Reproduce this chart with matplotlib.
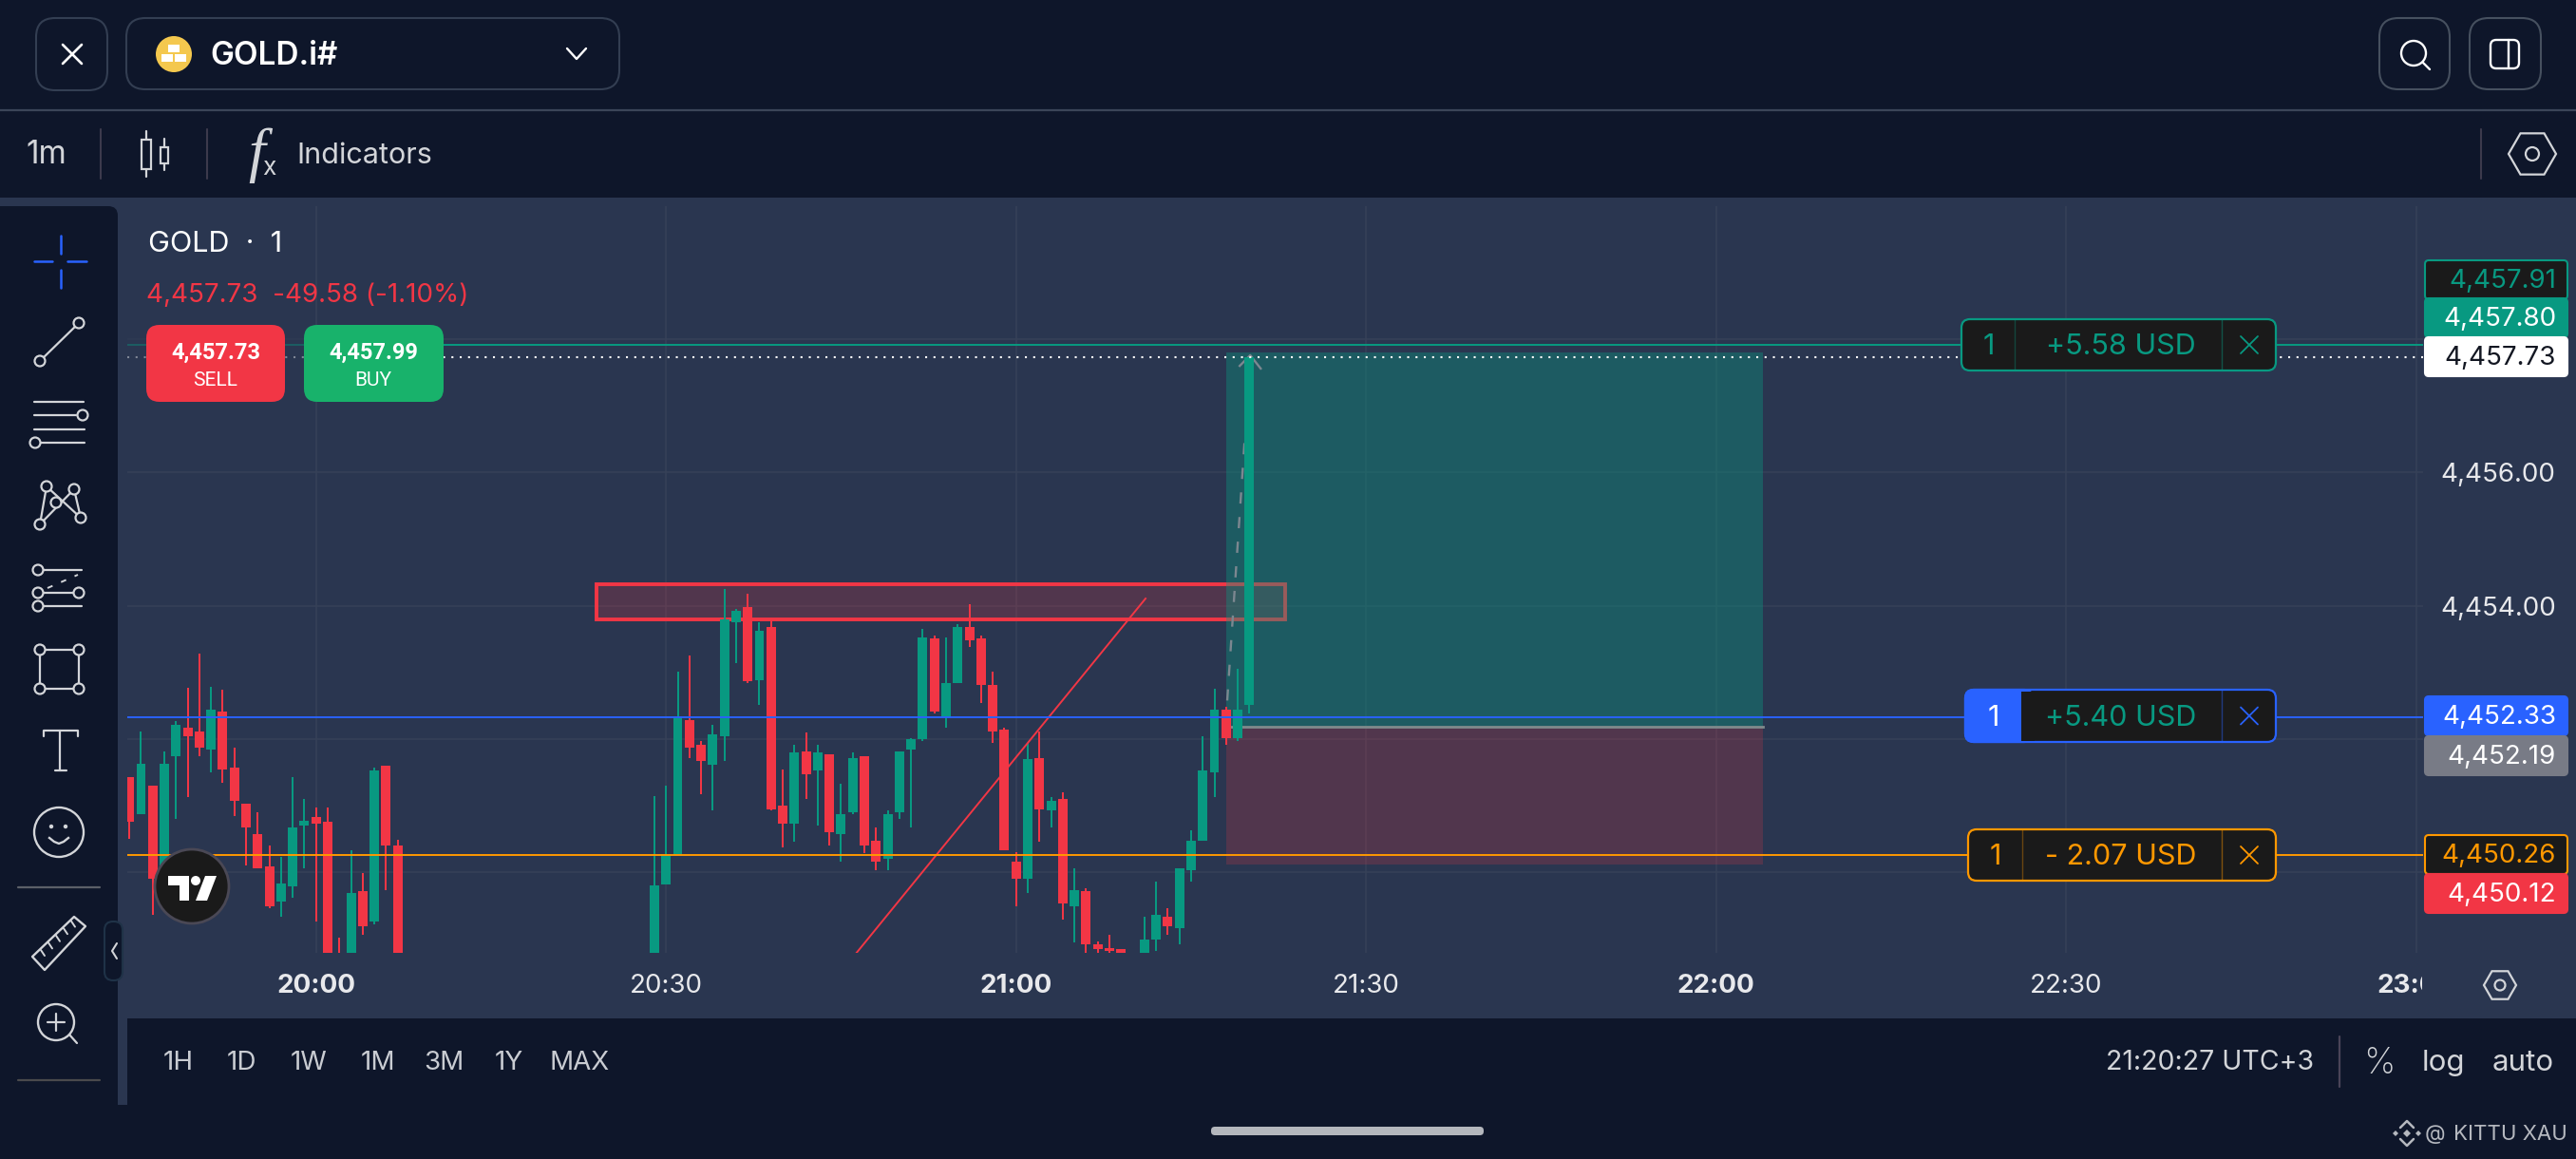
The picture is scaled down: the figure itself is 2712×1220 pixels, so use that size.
import matplotlib
matplotlib.use("Agg")
import numpy as np
import matplotlib.pyplot as plt
from matplotlib.patches import Circle, Ellipse, FancyBboxPatch, Polygon, Rectangle

plt.rcParams['font.family'] = ['Inter', 'DejaVu Sans']

# --- candles, minutes counted from 20:00 ---
times = [-16, -15, -14, -13, -12, -11, -10, -9, -8, -7, -6, -5, -4, -3, -2, -1, 0, 1, 2, 3, 4, 5, 6, 7,
         29, 30, 31, 32, 33, 34, 35, 36, 37, 38, 39, 40, 41, 42, 43, 44, 45, 46, 47, 48, 49, 50, 51, 52,
         53, 54, 55, 56, 57, 58, 59, 60, 61, 62, 63, 64, 65, 66, 67, 68, 69, 71, 72, 73, 74, 75, 76, 77,
         78, 79, 80]
opens = [4451.43, 4450.87, 4451.31, 4450.00, 4451.75, 4452.17, 4452.12, 4451.85, 4452.42, 4451.58, 4451.03, 4450.58,
         4450.09, 4449.57, 4449.79, 4450.71, 4450.83, 4450.76, 4448.75, 4448.65, 4449.72, 4449.27, 4451.60, 4450.41,
         4448.65, 4449.82, 4450.26, 4452.28, 4451.92, 4451.61, 4452.05, 4453.76, 4453.98, 4452.88, 4453.69, 4451.00,
         4450.73, 4451.81, 4451.53, 4451.77, 4450.57, 4450.90, 4451.75, 4450.47, 4450.21, 4450.90, 4451.85, 4452.00,
         4453.51, 4452.31, 4452.84, 4453.68, 4453.51, 4452.82, 4452.15, 4450.16, 4449.90, 4451.71, 4450.93, 4451.10,
         4449.50, 4449.72, 4448.92, 4448.86, 4448.85, 4448.65, 4449.00, 4449.34, 4449.17, 4450.03, 4450.47, 4451.50,
         4452.45, 4452.02, 4452.52]
highs = [4451.43, 4452.12, 4451.31, 4451.82, 4452.27, 4452.77, 4453.29, 4452.78, 4452.74, 4451.88, 4451.03, 4450.90,
         4450.41, 4450.23, 4451.43, 4451.10, 4450.97, 4450.97, 4449.02, 4450.33, 4449.99, 4451.57, 4451.60, 4450.49,
         4451.15, 4451.30, 4453.02, 4453.26, 4451.98, 4452.21, 4454.26, 4453.96, 4454.18, 4453.76, 4453.78, 4451.54,
         4451.92, 4452.10, 4451.91, 4451.78, 4451.33, 4451.80, 4451.75, 4450.67, 4450.93, 4451.82, 4452.01, 4453.65,
         4453.56, 4453.52, 4453.73, 4454.03, 4453.55, 4453.02, 4452.17, 4450.31, 4451.94, 4452.11, 4451.13, 4451.20,
         4450.06, 4449.76, 4448.96, 4449.07, 4448.85, 4449.33, 4449.87, 4449.46, 4450.06, 4450.63, 4452.04, 4452.75,
         4452.48, 4453.06, 4457.73]
lows = [4450.50, 4450.87, 4449.37, 4449.95, 4450.81, 4451.13, 4451.75, 4451.50, 4451.35, 4450.84, 4450.11, 4450.06,
        4449.46, 4449.34, 4449.62, 4450.06, 4449.27, 4448.65, 4448.60, 4448.65, 4449.07, 4449.22, 4449.73, 4448.65,
        4448.65, 4449.82, 4450.26, 4451.72, 4451.18, 4450.93, 4451.67, 4453.14, 4452.84, 4452.52, 4450.93, 4450.37,
        4450.46, 4451.11, 4450.70, 4450.40, 4450.16, 4450.87, 4450.29, 4450.04, 4450.04, 4450.81, 4450.68, 4451.98,
        4452.39, 4452.17, 4452.84, 4453.39, 4452.54, 4451.95, 4450.34, 4449.49, 4449.69, 4450.46, 4450.68, 4449.30,
        4448.95, 4448.65, 4448.70, 4448.70, 4448.70, 4448.65, 4448.82, 4449.07, 4448.92, 4449.86, 4450.47, 4451.13,
        4451.92, 4451.98, 4452.39]
closes = [4450.76, 4451.63, 4449.90, 4451.63, 4452.21, 4452.05, 4451.87, 4452.44, 4451.55, 4451.07, 4450.67, 4450.07,
          4449.50, 4449.84, 4450.68, 4450.78, 4450.74, 4448.65, 4448.65, 4449.69, 4449.20, 4451.53, 4450.41, 4448.65,
          4449.80, 4450.27, 4452.34, 4451.87, 4451.68, 4452.07, 4453.79, 4453.92, 4452.87, 4453.62, 4450.94, 4450.74,
          4451.80, 4451.48, 4451.80, 4450.61, 4450.87, 4451.71, 4450.41, 4450.17, 4450.88, 4451.82, 4452.00, 4453.52,
          4452.41, 4452.84, 4453.69, 4453.48, 4452.82, 4452.12, 4450.34, 4449.90, 4451.70, 4450.94, 4451.07, 4449.53,
          4449.73, 4448.93, 4448.85, 4448.83, 4448.70, 4448.99, 4449.36, 4449.20, 4450.06, 4450.47, 4451.53, 4452.44,
          4452.02, 4452.45, 4457.73]

# --- levels and drawings ---
price_ticks = [4450, 4452, 4454, 4456, 4458]
price_labels = ['', '', '4,454.00', '4,456.00', '']  # the others sit under the price tags
time_ticks = [0, 30, 60, 90, 120, 150, 180]
time_labels = ['20:00', '20:30', '21:00', '21:30', '22:00', '22:30', '23:00']
tp_price = 4457.91
last_price = 4457.73
entry_price = 4452.33
sl_price = 4450.26
box_top, box_entry, box_bottom = 4457.80, 4452.19, 4450.12
box_start, box_end = 78, 124
zone_start, zone_end = 24.05, 83.05
zone_top, zone_bottom = 4454.32, 4453.80
trend_t = [46.3, 71.1]
trend_p = [4448.79, 4454.11]
arrow_t = [78.1, 80.07]
arrow_p = [4452.58, 4457.73]

# price tags: text, top, fill, edge, text colour
price_tags = [
    ('4,457.91', 274, '#1a1a1a', '#089981', '#089981'),
    ('4,457.80', 314, '#089981', '#089981', 'white'),
    ('4,457.73', 355, 'white', 'white', '#131722'),
    ('4,452.33', 733, '#2962ff', '#2962ff', 'white'),
    ('4,452.19', 775, '#787b86', '#787b86', 'white'),
    ('4,450.26', 879, '#1a1a1a', '#ff9800', '#ff9800'),
    ('4,450.12', 920, '#f23645', '#f23645', 'white'),
]

BG = '#0e162a'
PANE = '#2a3650'
GRID = '#364158'
GREEN = '#089981'
RED = '#f23645'
BLUE = '#2962ff'
ORANGE = '#ff9800'
ICON = '#d3d5d9'
W, H = 2712, 1220
PANE_L, PANE_R, PANE_T, PANE_B = 134, 2551, 217, 1003

fig = plt.figure(figsize=(W / 100, H / 100), dpi=100, facecolor=BG)


def pixel_axes(zorder):
    a = fig.add_axes([0, 0, 1, 1], zorder=zorder)
    a.set_xlim(0, W)
    a.set_ylim(H, 0)
    a.axis('off')
    a.patch.set_alpha(0)
    return a


back = pixel_axes(0)
back.add_patch(Rectangle((0, 208), W, 864, fc=PANE, ec='none'))
back.add_patch(Rectangle((124, 1072), 10, 91, fc=PANE, ec='none'))

# --- chart ---
ax = fig.add_axes([PANE_L / W, 1 - PANE_B / H, (PANE_R - PANE_L) / W, (PANE_B - PANE_T) / H], zorder=1)
ax.patch.set_alpha(0)
ax.set_xlim(-16.18, 180.6)
ax.set_ylim(4448.795, 4459.996)
for s in ax.spines.values():
    s.set_visible(False)
ax.set_xticks(time_ticks)
ax.set_xticklabels(time_labels)
ax.set_yticks(price_ticks)
ax.set_yticklabels(price_labels)
ax.yaxis.tick_right()
ax.tick_params(axis='both', length=0, labelcolor='#e8e9ec', labelsize=20)
ax.tick_params(axis='x', pad=16)
ax.tick_params(axis='y', pad=13)
for lab in ax.get_xticklabels():
    if lab.get_text().endswith(':00'):
        lab.set_fontweight('bold')
ax.grid(True, color=GRID, lw=1.1, zorder=0)
ax.set_axisbelow(True)

o = np.array(opens)
c = np.array(closes)
colors = [GREEN if b >= a else RED for a, b in zip(opens, closes)]

ax.fill_between([zone_start, zone_end], zone_bottom, zone_top, color=RED, alpha=0.2, lw=0, zorder=1)
ax.add_patch(Rectangle((zone_start, zone_bottom), zone_end - zone_start, zone_top - zone_bottom,
                       fc='none', ec=RED, lw=2.8, zorder=1.1))
ax.fill_between([box_start, box_end], box_entry, box_top, color=GREEN, alpha=0.38, lw=0, zorder=1.5)
ax.fill_between([box_start, box_end], box_bottom, box_entry, color=RED, alpha=0.2, lw=0, zorder=1.5)
ax.plot([box_start, box_end], [box_entry, box_entry], color='#7f8a8c', lw=2, zorder=1.6)
ax.plot(arrow_t, arrow_p, color='#7c8790', lw=1.7, ls=(0, (5, 6)), zorder=1.7)
ax.plot([arrow_t[1] - 0.9, arrow_t[1], arrow_t[1] + 0.9], [arrow_p[1] - 0.13, arrow_p[1] + 0.03, arrow_p[1] - 0.17],
        color='#7c8790', lw=1.7, zorder=1.7)

ax.vlines(times, lows, highs, color=colors, lw=1.45, zorder=3)
ax.bar(times, np.abs(c - o), bottom=np.minimum(o, c), width=0.81, color=colors, zorder=3.1)

ax.plot(trend_t, trend_p, color=RED, lw=1.4, zorder=3.3)
ax.axhline(tp_price, color=GREEN, lw=1.4, zorder=4)
ax.axhline(last_price, color='white', lw=1.5, ls=(0, (1, 3.2)), zorder=4)
ax.axhline(entry_price, color=BLUE, lw=1.4, zorder=4)
ax.axhline(sl_price, color=ORANGE, lw=1.4, zorder=4)

# --- interface on top ---
ui = pixel_axes(2)


def rbox(x0, y0, x1, y1, r, fc, ec='none', lw=1.5, z=2):
    ui.add_patch(FancyBboxPatch((x0 + r, y0 + r), x1 - x0 - 2 * r, y1 - y0 - 2 * r,
                                boxstyle=f'round,pad={r},rounding_size={r}', fc=fc, ec=ec, lw=lw, zorder=z))


def line(xs, ys, col=ICON, lw=1.6, z=3, **kw):
    ui.plot(xs, ys, color=col, lw=lw, zorder=z, solid_capstyle='round', **kw)


def dot(x, y, r=5.5, col=ICON, lw=1.6):
    ui.add_patch(Circle((x, y), r, fc=BG, ec=col, lw=lw, zorder=4))


def txt(x, y, s, size=18, col=ICON, ha='center', **kw):
    ui.text(x, y - 1, s, fontsize=size, color=col, ha=ha, va='center_baseline', zorder=5, **kw)


def hexagon(x, y, r, inner):
    ang = np.radians([0, 60, 120, 180, 240, 300])
    ui.add_patch(Polygon(np.c_[x + r * np.cos(ang), y + r * np.sin(ang)], fc='none', ec=ICON, lw=1.6, zorder=3))
    ui.add_patch(Circle((x, y), inner, fc='none', ec=ICON, lw=1.6, zorder=3))


# clip the 23:00 label and the legend dimming
ui.add_patch(Rectangle((2550, 1012), 160, 50, fc=PANE, ec='none', zorder=1))
ui.add_patch(Rectangle((134, 350), 251, 34, fc=PANE, ec='none', alpha=0.6, zorder=1))

# header
rbox(38, 19, 113, 95, 20, 'none', '#333e52', 1.5)
line([66, 86], [47, 67], 'white', 1.9)
line([66, 86], [67, 47], 'white', 1.9)
rbox(133, 19, 652, 94, 20, 'none', '#333e52', 1.5)
ui.add_patch(Ellipse((183, 57), 38, 38, fc='#f4c84e', ec='none', zorder=3))
for bx, by in [(183, 51), (176, 61), (190, 61)]:
    ui.add_patch(Rectangle((bx - 6, by - 4), 12, 8, fc='white', ec='none', zorder=4))
txt(221, 57, 'GOLD.i#', 24, 'white', ha='left', fontweight='semibold')
line([597, 607, 617], [51, 62, 51], 'white', 1.7)
line([0, W], [116, 116], '#3b4558', 1.6)
rbox(2505, 19, 2579, 94, 20, 'none', '#46505f', 1.5)
ui.add_patch(Circle((2541, 56), 13, fc='none', ec='white', lw=1.7, zorder=3))
line([2551, 2558], [66, 73], 'white', 1.7)
rbox(2600, 19, 2675, 94, 20, 'none', '#46505f', 1.5)
rbox(2622, 42, 2652, 72, 6, 'none', 'white', 1.7, z=3)
line([2641, 2641], [42, 72], 'white', 1.7)

# toolbar row
txt(27, 161, '1m', 24, ICON, ha='left')
for dx in [106, 218, 2612]:
    line([dx, dx], [136, 188], '#3c3a4c', 1.5)
line([154, 154], [138, 186])
ui.add_patch(Rectangle((149, 147), 10, 31, fc=BG, ec=ICON, lw=1.6, zorder=4))
line([173, 173], [146, 179])
ui.add_patch(Rectangle((169, 155), 8, 17, fc=BG, ec=ICON, lw=1.6, zorder=4))
txt(270, 158, 'f', 46, ICON, family='Liberation Serif', style='italic')
txt(283, 175, 'x', 19, ICON)
txt(312, 162, 'Indicators', 22, ICON, ha='left')
hexagon(2666, 162, 25, 7)

# drawing tools panel
rbox(-20, 217, 124, 1185, 10, BG)
line([64, 64], [248, 267], BLUE, 1.8)
line([64, 64], [284, 303], BLUE, 1.8)
line([36, 55], [275, 275], BLUE, 1.8)
line([71, 91], [275, 275], BLUE, 1.8)
line([42, 83], [380, 340])
dot(42, 380)
dot(83, 340)
line([36, 88], [423, 423])
line([36, 80], [437, 437])
dot(87, 437)
line([36, 89], [452, 452])
line([37, 89], [466, 466])
dot(37, 466)
for pa, pb in [((42, 552), (49, 512)), ((49, 512), (85, 545)), ((78, 515), (42, 552)), ((78, 515), (85, 545))]:
    line([pa[0], pb[0]], [pa[1], pb[1]])
for cx, cy in [(49, 512), (78, 515), (59, 529), (42, 552), (85, 545)]:
    dot(cx, cy)
line([40, 86], [600, 600])
line([40, 83], [624, 624])
line([40, 86], [638, 638])
ui.plot([50, 82], [619, 605], color=ICON, lw=1.4, ls=(0, (3, 5)), zorder=3)
for cx, cy in [(40, 600), (40, 624), (83, 624), (40, 638)]:
    dot(cx, cy)
line([42, 83, 83, 42, 42], [684, 684, 725, 725, 684])
for cx, cy in [(42, 684), (83, 684), (42, 725), (83, 725)]:
    dot(cx, cy)
line([46, 46, 82, 82], [775, 769, 769, 775])
line([63, 63], [769, 811])
line([58, 70], [811, 811])
ui.add_patch(Circle((62, 876), 26, fc='none', ec=ICON, lw=1.7, zorder=3))
ui.add_patch(Circle((54, 870), 2.2, fc=ICON, zorder=3))
ui.add_patch(Circle((69, 870), 2.2, fc=ICON, zorder=3))
ui.plot([52, 57, 62, 67, 72], [882, 886, 888, 886, 882], color=ICON, lw=1.7, zorder=3)
line([19, 105], [934, 934], '#5b5f68', 1.6)
ui.add_patch(Polygon([(34, 1007), (78, 965), (90, 975), (47, 1021)], fc='none', ec=ICON, lw=1.7, joinstyle='round', zorder=3))
for k in range(5):
    xa = 43 + 8 * k
    ya = 1000 - 7.6 * k
    line([xa, xa + 4], [ya, ya + 6], ICON, 1.4)
ui.add_patch(Circle((59, 1076), 19, fc='none', ec=ICON, lw=1.7, zorder=3))
line([50, 68], [1076, 1076])
line([59, 59], [1067, 1085])
line([73, 81], [1089, 1098])
line([19, 105], [1137, 1137], '#4a4a4c', 1.6)
rbox(110, 970, 129, 1032, 9, BG, '#1f3247', 1.5)
line([123, 118, 123], [993, 1001, 1009], ICON, 1.5)

# legend
txt(156, 255, 'GOLD  ·  1', 22, 'white', ha='left')
txt(154, 309, '4,457.73  -49.58 (-1.10%)', 20, RED, ha='left')
rbox(154, 342, 300, 423, 14, RED)
rbox(320, 342, 467, 423, 14, '#18b26b')
txt(227, 370, '4,457.73', 17, 'white', family='Roboto', fontweight='bold')
txt(227, 399, 'SELL', 15, 'white', family='Roboto')
txt(393, 370, '4,457.99', 17, 'white', family='Roboto', fontweight='bold')
txt(393, 399, 'BUY', 15, 'white', family='Roboto')

# TradingView badge
ui.add_patch(Circle((202, 933), 39, fc='#1a1a1a', ec='#4a4855', lw=2, zorder=3))
ui.add_patch(Polygon([(177, 922), (199, 922), (199, 948), (189, 948), (189, 932), (177, 932)], fc='white', zorder=4))
ui.add_patch(Circle((206, 927), 5, fc='white', zorder=4))
ui.add_patch(Polygon([(216, 922), (228, 922), (218, 948), (206, 948)], fc='white', zorder=4))

# order tickets
tickets = [
    (2065, 336, 390, 2121, 2094, '+5.58 USD', BLUE, GREEN, GREEN, False),
    (2069, 726, 781, 2128, 2099, '+5.40 USD', BLUE, GREEN, 'white', True),
    (2072, 873, 927, 2129, 2101, '- 2.07 USD', ORANGE, ORANGE, ORANGE, False),
]
tickets[0] = tickets[0][:6] + (GREEN,) + tickets[0][7:]
for x0, y0, y1, div, one_x, label, edge, tcol, one_col, filled in tickets:
    rbox(x0, y0, 2396, y1, 9, '#1a1a1a', edge, 1.6, z=2)
    if filled:
        rbox(x0, y0, div + 12, y1, 9, edge, edge, 1.6, z=2.2)
        ui.add_patch(Rectangle((div, y0 + 1.5), 14, y1 - y0 - 3, fc='#1a1a1a', ec='none', zorder=2.3))
    else:
        line([div, div], [y0, y1], edge, 1, alpha=0.35)
    line([2339, 2339], [y0, y1], edge, 1, alpha=0.45)
    ym = (y0 + y1) / 2
    txt(one_x, ym, '1', 22, one_col)
    txt(2233, ym, label, 22, tcol)
    line([2359, 2377], [ym - 9, ym + 9], edge, 1.3)
    line([2359, 2377], [ym + 9, ym - 9], edge, 1.3)

# price tags
for label, top, fc, ec, tc in price_tags:
    rbox(2553, top, 2703, top + 41, 4, fc, ec, 1.5, z=2.5)
    txt(2691, top + 20, label, 20, tc, ha='right')

hexagon(2632, 1037, 17, 5.5)

# bottom bar
ui.add_patch(Rectangle((134, 1072), W - 134, 148, fc=BG, ec='none', zorder=1))
ui.add_patch(Rectangle((0, 1163), 134, 57, fc=BG, ec='none', zorder=1))
for lx, lab in zip([188, 254, 325, 398, 467, 536, 610], ['1H', '1D', '1W', '1M', '3M', '1Y', 'MAX']):
    txt(lx, 1117, lab, 20, '#c9ccd2')
txt(2436, 1117, '21:20:27 UTC+3', 20.5, ICON, ha='right')
line([2463, 2463], [1091, 1144], '#4a4458', 1.6)
txt(2505, 1117, '%', 27, ICON, fontweight='light')
txt(2572, 1117, 'log', 22.5, ICON)
txt(2656, 1117, 'auto', 22.5, ICON)
rbox(1275, 1186, 1562, 1195, 4, '#b4b7bd')
# small exchange mark next to the watermark
for mx, my, mr in [(2534, 1193, 4), (2522, 1193, 3), (2546, 1193, 3)]:
    ui.add_patch(Polygon([(mx, my - mr), (mx + mr, my), (mx, my + mr), (mx - mr, my)], fc='#b5b8bf', zorder=3))
line([2527, 2534, 2541], [1187, 1180, 1187], '#b5b8bf', 1.8)
line([2527, 2534, 2541], [1199, 1206, 1199], '#b5b8bf', 1.8)
txt(2563, 1193, '@', 16, '#b5b8bf')
txt(2703, 1193, 'KITTU XAU', 16, '#b5b8bf', ha='right')

fig.savefig('out.png', dpi=100, facecolor=BG)
